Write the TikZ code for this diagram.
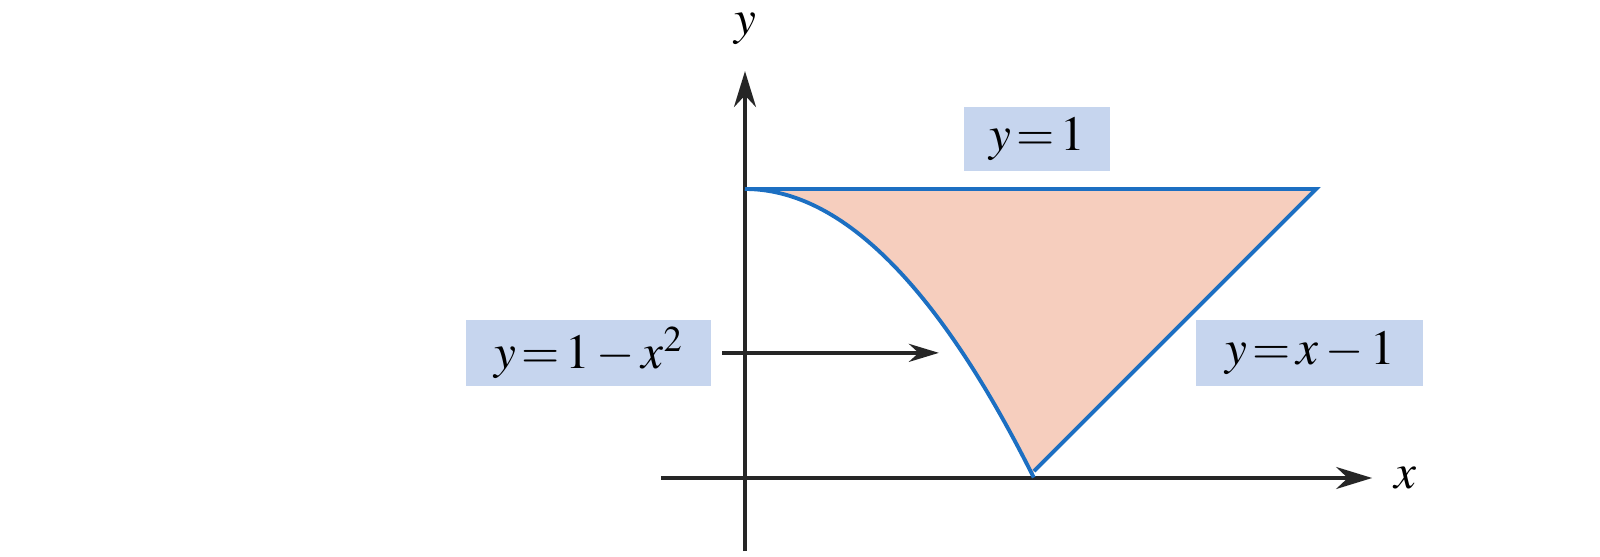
\documentclass[tikz,border=0pt]{standalone}
\usepackage{mathptmx}
\usetikzlibrary{arrows.meta}
\definecolor{regionfill}{HTML}{F6CEBE}
\definecolor{boxfill}{HTML}{C6D5EE}
\definecolor{curveblue}{HTML}{1C6FC2}
\begin{document}
\begin{tikzpicture}[x=28.9mm,y=28.9mm,
  axis/.style={line width=1.1pt,black!85,-{Stealth[length=3.6mm,width=2.2mm]}},
  curve/.style={line width=1.1pt,curveblue},
  lab/.style={fill=boxfill,inner sep=0pt,font=\fontsize{14}{16}\selectfont},
  axlab/.style={font=\fontsize{14}{16}\selectfont},
  pointer/.style={line width=1.1pt,black!85,-{Stealth[length=3mm,width=1.8mm]}}]
\useasboundingbox (-2.5779,-0.2699) rectangle (2.9585,1.6540);
% region
\fill[regionfill] (0,1) -- (1.976,1) -- (1,0.024)
  -- plot[domain=1:0,samples=60,smooth] (\x,{1-\x*\x});
% axes
\coordinate (ybot) at (0,-0.2526);
\coordinate (ytop) at (0,1.408);
\coordinate (xleft) at (-0.2907,0);
\coordinate (xright) at (2.170,0);
\draw[axis] (ybot) -- (ytop);
\draw[axis] (xleft) -- (xright);
\node[axlab] (ylab) at (0,1.554) {$y$};
\node[axlab] (xlab) at (2.287,0) {$x$};
% curves
\draw[curve] (0,1) -- (1.976,1) -- (1,0.024);
\draw[curve] plot[domain=0:1,samples=60,smooth] (\x,{1-\x*\x});
% labels
\node[lab,minimum width=14.6mm,minimum height=6.4mm] (l1) at (1.010,1.173) {$y\!=\!1$};
\node[lab,minimum width=24.5mm,minimum height=6.6mm] (l2) at (-0.540,0.433) {$y\!=\!1-x^2$};
\node[lab,minimum width=22.7mm,minimum height=6.6mm] (l3) at (1.955,0.433) {$y\!=\!x-1$};
\coordinate (ptip) at (0.671,0.433);
\draw[pointer] ([xshift=1mm]l2.east) -- (ptip);
\end{tikzpicture}
\end{document}
